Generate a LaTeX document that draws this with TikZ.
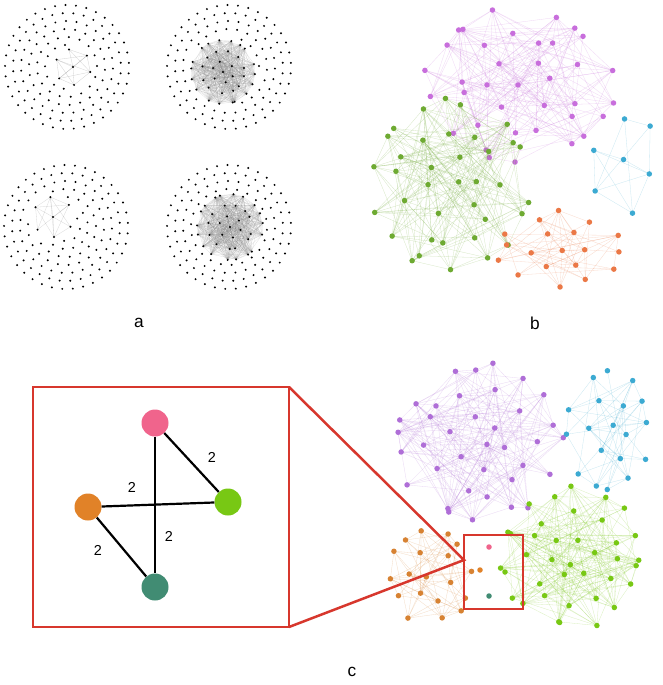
\documentclass[tikz,border=0pt]{standalone}
\usepackage{fontspec}
\setmainfont{Liberation Sans}
\definecolor{cpur}{RGB}{200,110,220}
\definecolor{cgrn}{RGB}{110,170,50}
\definecolor{cblu}{RGB}{60,170,210}
\definecolor{cora}{RGB}{235,120,70}
\definecolor{cpur2}{RGB}{175,110,215}
\definecolor{cgrn2}{RGB}{120,200,20}
\definecolor{cora2}{RGB}{215,130,50}
\definecolor{bred}{RGB}{215,55,45}
\definecolor{npink}{RGB}{240,100,140}
\definecolor{ngreen}{RGB}{120,200,20}
\definecolor{norange}{RGB}{225,130,40}
\definecolor{nteal}{RGB}{65,140,115}
\tikzset{
 dot/.style={circle,fill,inner sep=0pt,minimum size=2.2pt},
 cdot/.style={circle,fill=#1,inner sep=0pt,minimum size=5.5pt},
 bignode/.style={circle,fill=#1,inner sep=0pt,minimum size=27pt},
 wedge/.style={line width=2.2pt,black},
 wlab/.style={font=\Large},
 panlab/.style={font=\LARGE},
}
% prefix cx cy rx ry M color p
\newcommand\drawcluster[8]{%
 \coordinate (#1-1) at ({#2+rand*#4*0.1},{#3+rand*#5*0.1});
 \pgfmathtruncatemacro\NN{1+3*#6*(#6+1)}
 \foreach \m in {1,...,#6}{
   \pgfmathtruncatemacro\nm{6*\m}
   \pgfmathsetmacro\off{rnd*360}
   \foreach \k in {1,...,\nm}{
     \pgfmathtruncatemacro\idx{1+3*(\m-1)*\m+\k}
     \pgfmathsetmacro\ang{\off+360*\k/\nm+rand*12}
     \pgfmathsetmacro\rr{(\m+rand*0.2)/#6}
     \coordinate (#1-\idx) at ({#2+#4*\rr*cos(\ang)},{#3+#5*\rr*sin(\ang)});
 }}
 \foreach \i in {2,...,\NN}{
   \foreach \j in {1,...,\i}{
     \pgfmathsetmacro\u{rnd}
     \ifnum\j<\i \ifdim\u pt<#8pt \draw[#7,opacity=0.28,line width=0.3pt] (#1-\i)--(#1-\j);\fi\fi
   }}
 \foreach \i in {1,...,\NN}{\node[cdot=#7] at (#1-\i) {};}
}
% prefix cx cy innerR M icx icy edgeopacity
\newcommand\ringdisk[8]{%
 \foreach \r in {14,22,30,38,46,54,62}{
   \pgfmathtruncatemacro\n{2*3.14159*\r/10.5}
   \foreach \k in {1,...,\n}{
     \pgfmathsetmacro\px{#2+\r*cos(360*\k/\n+7*\r)}
     \pgfmathsetmacro\py{#3+\r*sin(360*\k/\n+7*\r)}
     \pgfmathsetmacro\dd{veclen(\px-#6,\py-#7)}
     \ifdim\dd pt>#4pt \node[dot] at (\px,\py) {};\fi }}
 \pgfmathsetmacro\cr{#4-4}
 \coordinate (#1-1) at (#6,#7);
 \pgfmathtruncatemacro\NN{1+3*#5*(#5+1)}
 \foreach \m in {1,...,#5}{
   \pgfmathtruncatemacro\nm{6*\m}
   \foreach \k in {1,...,\nm}{
     \pgfmathtruncatemacro\idx{1+3*(\m-1)*\m+\k}
     \pgfmathsetmacro\ang{360*\k/\nm+rand*10+20*\m}
     \coordinate (#1-\idx) at ({#6+\cr*\m/#5*cos(\ang)},{#7+\cr*\m/#5*sin(\ang)});
 }}
 \foreach \i in {2,...,\NN}{\foreach \j in {1,...,\i}{
   \pgfmathsetmacro\u{rnd}
   \ifnum\j<\i \ifdim\u pt<0.7pt \draw[gray,opacity=#8,line width=0.3pt] (#1-\i)--(#1-\j);\fi\fi}}
 \foreach \i in {1,...,\NN}{\node[dot] at (#1-\i) {};}
}
\begin{document}
\begin{tikzpicture}[x=1pt,y=-1pt]
\pgfmathsetseed{11}
\fill[white] (0,0) rectangle (663,685);
\useasboundingbox (0,0) rectangle (663,685);
% panel a
\ringdisk{A}{67}{67}{22}{1}{73}{67}{0.35}
\ringdisk{B}{229}{67}{36}{3}{223}{72}{0.22}
\ringdisk{C}{66}{227}{24}{1}{53}{217}{0.3}
\ringdisk{D}{229}{227}{37}{3}{230}{227}{0.24}
\node[panlab] (la) at (139,323) {a};
% panel b
\drawcluster{Pb}{520}{85}{93}{74}{3}{cpur}{0.3}
\drawcluster{Gb}{451}{185}{78}{83}{3}{cgrn}{0.3}
\drawcluster{Bb}{622}{162}{32}{46}{1}{cblu}{0.5}
\drawcluster{Ob}{560}{250}{60}{36}{2}{cora}{0.35}
\node[panlab] (lb) at (535,323) {b};
% panel c
\drawcluster{Pc}{479}{443}{80}{76}{3}{cpur2}{0.3}
\drawcluster{Bc}{610}{430}{40}{58}{2}{cblu}{0.3}
\drawcluster{Oc}{430}{574}{40}{48}{2}{cora2}{0.3}
\drawcluster{Gc}{572}{558}{68}{68}{3}{cgrn2}{0.3}
\node[panlab] (lc) at (352,672) {c};
% zoom boxes
\coordinate (Z3) at (289,387); \coordinate (Z4) at (289,627);
\coordinate (S0) at (464,560);
\draw[bred,line width=2.5pt] (Z4)--(S0)--(Z3);
\draw[bred,line width=2.5pt] (33,387) rectangle (289,627);
\draw[bred,line width=2pt] (464,535) rectangle (523,609);
\node[cdot=npink] at (489,547) {};
\node[cdot=ngreen] at (505,572) {};
\node[cdot=norange] at (480,570) {};
\node[cdot=nteal] at (489,596) {};
\node[bignode=npink] (np) at (155,423) {};
\node[bignode=ngreen] (ng) at (228,502) {};
\node[bignode=norange] (no) at (88,507) {};
\node[bignode=nteal] (nt) at (155,587) {};
\draw[wedge] (np)--(ng);
\draw[wedge] (np)--(nt);
\draw[wedge] (no)--(ng);
\draw[wedge] (no)--(nt);
\node[wlab] at (212,457) {2};
\node[wlab] at (132,487) {2};
\node[wlab] at (169,536) {2};
\node[wlab] at (98,550) {2};
\end{tikzpicture}
\end{document}
